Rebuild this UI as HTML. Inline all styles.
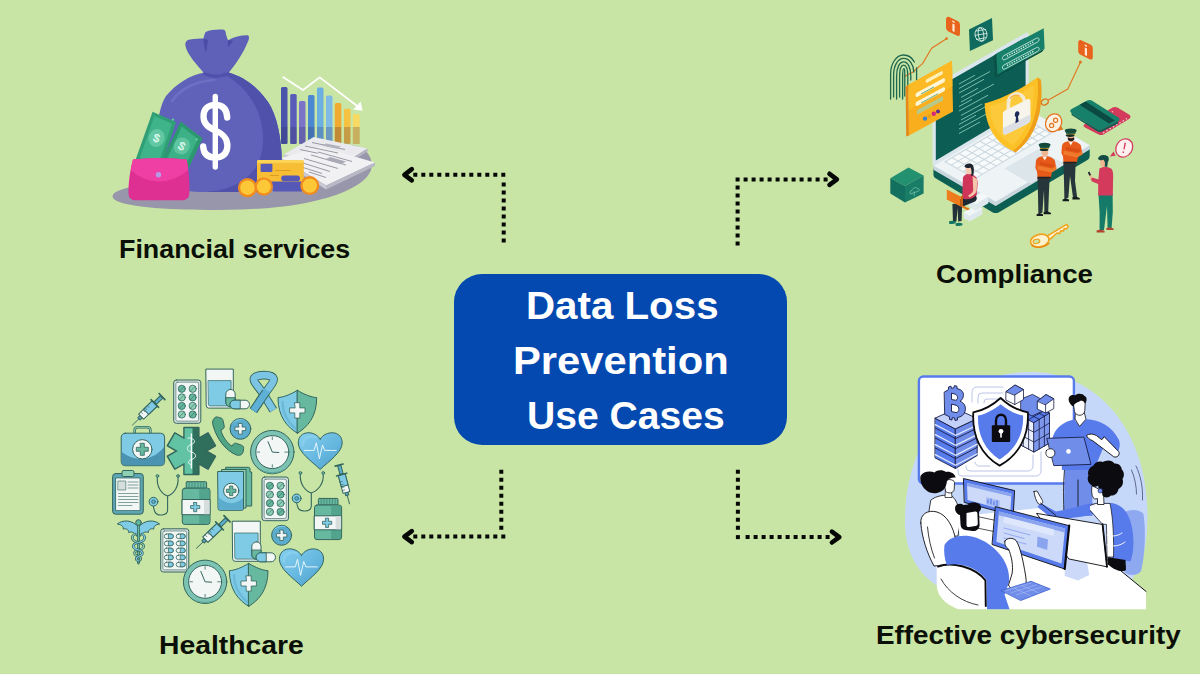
<!DOCTYPE html>
<html lang="en">
<head>
<meta charset="utf-8">
<title>Data Loss Prevention Use Cases</title>
<style>
  html, body { margin: 0; padding: 0; }
  body {
    width: 1200px; height: 674px; overflow: hidden; position: relative;
    background: #c9e5a5;
    font-family: "Liberation Sans", sans-serif;
  }
  #art { position: absolute; left: 0; top: 0; width: 1200px; height: 674px; }
  .center-box {
    position: absolute; left: 454px; top: 274px; width: 333px; height: 171px;
    background: #0449af; border-radius: 28px;
  }
  .lbl {
    position: absolute; white-space: nowrap; font-weight: bold;
    color: #0a0f08; line-height: 1; transform-origin: 0 0;
  }
  .ctr { color: #ffffff; font-size: 39px; }
  .side { font-size: 26px; }
</style>
</head>
<body>

<svg id="art" viewBox="0 0 1200 674" width="1200" height="674">
  <g id="fin">
    <!-- ground shadow -->
    <path d="M112.5 196 C114 186 160 181 236 179 L300 160 L345 146 C362 142 375 156 371 170 C365 188 322 206 252 209 C182 212 111 208 112.5 196 Z" fill="#9896ab"/>
    <!-- bar chart -->
    <g>
      <rect x="281" y="87" width="6.5" height="57" rx="1.5" fill="#4a54ab"/>
      <rect x="290.2" y="94" width="6.5" height="50" rx="1.5" fill="#5b5cb9"/>
      <rect x="299" y="101" width="6.5" height="43" rx="1.5" fill="#7b74c9"/>
      <rect x="308" y="95" width="6.5" height="49" rx="1.5" fill="#4b88d2"/>
      <rect x="317" y="87.6" width="6.5" height="56" rx="1.5" fill="#6cb0e2"/>
      <rect x="326" y="95.6" width="6.5" height="48" rx="1.5" fill="#80bbe6"/>
      <rect x="334.8" y="103" width="6.5" height="41" rx="1.5" fill="#f1a92f"/>
      <rect x="344" y="108.7" width="6.5" height="35" rx="1.5" fill="#f5c242"/>
      <rect x="352.8" y="114" width="6.9" height="30" rx="1.5" fill="#f7da63"/>
      <rect x="281" y="127" width="6.5" height="17" fill="#2a2a55" opacity="0.24"/><rect x="290.2" y="127" width="6.5" height="17" fill="#2a2a55" opacity="0.24"/><rect x="299" y="127" width="6.5" height="17" fill="#2a2a55" opacity="0.24"/><rect x="308" y="127" width="6.5" height="17" fill="#2a2a55" opacity="0.24"/><rect x="317" y="127" width="6.5" height="17" fill="#2a2a55" opacity="0.24"/><rect x="326" y="127" width="6.5" height="17" fill="#2a2a55" opacity="0.24"/><rect x="334.8" y="127" width="6.5" height="17" fill="#2a2a55" opacity="0.24"/><rect x="344" y="127" width="6.5" height="17" fill="#2a2a55" opacity="0.24"/><rect x="352.8" y="127" width="6.9" height="17" fill="#2a2a55" opacity="0.24"/>
      <path d="M283.3 77.2 L303 90 L319.7 77.4 L357.5 106.3" fill="none" stroke="#ffffff" stroke-width="1.8" stroke-linejoin="round" stroke-linecap="round"/>
      <path d="M362.6 110.8 L353.2 109.6 L360.6 101.6 Z" fill="#ffffff"/>
    </g>
    <!-- tax papers -->
    <g>
      <path d="M283.7 154.5 L313.7 137 L367.5 148.5 L340 166 Z" fill="#e9e9ee"/>
      <path d="M283.7 154.5 L340 166 L340 169 L283.7 157.5 Z" fill="#c4c4cf"/>
      <path d="M340 166 L367.5 148.5 L367.5 151.5 L340 169 Z" fill="#b4b4c2"/>
      <path d="M281.2 158 L320 146.5 L375 162.5 L326.2 185.5 Z" fill="#f1f1f4"/>
      <path d="M281.2 158 L326.2 185.5 L326.2 189.5 L281.2 162 Z" fill="#c9c9d3"/>
      <path d="M326.2 185.5 L375 162.5 L375 166 L326.2 189.5 Z" fill="#b9b9c6"/>
      <g stroke="#8e8e9a" stroke-width="0.9" fill="none">
        <path d="M312 142.5 L345 149.5"/>
        <path d="M305 146 L338 153"/>
        <path d="M300 149.5 L318 153.3"/>
        <path d="M318 152 L352 161.5"/>
        <path d="M311 155 L346 165"/>
        <path d="M304 158.5 L338 168.5"/>
        <path d="M298 161.5 L330 171.5"/>
        <path d="M303 167.5 L322 173.5"/>
        <path d="M309 172 L326 177.5"/>
      </g>
      <path d="M330 157 L346 161.5 L341 164 L325 159.5 Z" fill="#a9a9b6"/>
      <path d="M326 143.5 L341 146.5 L337 148.7 L322 145.5 Z" fill="#b2b2be"/>
    </g>
    <!-- money bag -->
    <path d="M204.4 73.5 C198 66 186.5 54 185.4 45.5 C185 41.500 187 39.600 190 39.400 C195 38.800 200 38.600 203.400 38.600 C204.200 36 204.600 33.400 205.600 32 C210 29.600 218 29.200 222.400 29.500 C224.400 29.800 225.400 30.600 225.600 32 C226 35 227 38 228.200 40.200 C234 36.800 242 35 248 35.300 C249.400 36.500 249.200 38.500 248.400 40.500 C244 52 236 64 228.100 73.500 Z" fill="#5f61b8"/>
    <path d="M203.400 38.600 C203.600 44 204.600 49 206 52.500 C207 48 207.600 43 208 40 Z" fill="#4a4ca6"/>
    <path d="M228.200 40.200 C227.600 43 227.800 45.500 228.600 47 C230 45 231.600 42.500 233 40.500 Z" fill="#4a4ca6"/>
    <path d="M204.400 72.500 C190 75 176 84 166 96 C159 107 156.500 125 157.500 150 C158.500 178 172 192 200 192 L251 192 C276 192 283 176 281.500 152 C280 128 274 108 265 98 C255 85 242 76 228 72.500 Z" fill="#6062ba"/>
    <path d="M228 72.500 C242 76 255 85 265 98 C274 108 280 128 281.500 152 C283 176 276 192 251 192 L205 192 C240 190 263 172 263 140 C263 108 246 86 222 73 Z" fill="#4f51ab"/>
    <path d="M172 101 C181 88 197 81 214 80" fill="none" stroke="#7375c8" stroke-width="2.500" stroke-linecap="round" opacity="0.700"/>
    <path d="M203.600 71.800 C211 75.500 222 75.500 229 71.800 L229.600 74.600 C222 79 211 79 203.600 74.800 Z" fill="#4f51ab"/>
    <!-- dollar sign -->
    <g fill="none" stroke="#ffffff" stroke-linecap="round">
      <path d="M227.2 117.5 C226.8 108 222 104.9 215.3 104.9 C208 104.9 203.5 109 203.5 116.5 C203.5 124.5 209 127.5 215.5 130.5 C222.5 133.7 227.4 137.5 227.4 145.5 C227.4 154 222.5 157.6 215.3 157.6 C208 157.6 203.6 154 203.2 146.5" stroke-width="6.3"/>
      <path d="M215.3 96.4 V167" stroke-width="5.4"/>
    </g>
    <!-- bills -->
    <g>
      <path d="M152.600 111.800 L176 122 L161 168 L135.500 160 Z" fill="#2f9f75"/>
      <path d="M154.300 116 L172 123.800 L158.500 164 L139.800 158 Z" fill="#3fb48a"/>
      <ellipse cx="156.600" cy="138" rx="8" ry="9" transform="rotate(20 156.6 138)" fill="#62c8a4"/>
      <path d="M180.500 121.500 L202.600 138.300 L188 170 L162.500 160.500 Z" fill="#2b9870"/>
      <path d="M181.800 126.500 L197.800 139 L185.500 165.500 L167.200 158.600 Z" fill="#3cb086"/>
      <ellipse cx="181.800" cy="146" rx="7.800" ry="8.800" transform="rotate(30 181.8 146)" fill="#5fc5a0"/>
      <circle cx="173" cy="119.600" r="1.200" fill="#62c8a4"/><circle cx="196.600" cy="139.400" r="1.200" fill="#62c8a4"/>
      <text x="156.600" y="142.200" font-family="Liberation Sans, sans-serif" font-weight="bold" font-size="12" fill="#d9f7ea" text-anchor="middle" transform="rotate(20 156.6 138)">$</text>
      <text x="181.800" y="150.200" font-family="Liberation Sans, sans-serif" font-weight="bold" font-size="12" fill="#d9f7ea" text-anchor="middle" transform="rotate(30 181.8 146)">$</text>
    </g>
    <!-- purse -->
    <g>
      <path d="M133 159.6 C150 157.8 170 157.8 186.6 159.6 C188.5 168 190 184 189.3 194 C189 198.5 186 200.3 181 200.3 L136.5 200.3 C131.5 200.3 128.8 198.5 128.6 194 C128 184 130.5 168 133 159.6 Z" fill="#de2f92"/>
      <path d="M133 159.6 C150 157.8 170 157.8 186.6 159.6 C187.3 163 187.8 166.5 188.2 170 C178 178.5 168 181.5 159 181.5 C150 181.5 140 178.5 130.8 170 C131.4 166.5 132.1 163 133 159.6 Z" fill="#ef3ea4"/>
      <circle cx="158.5" cy="174.8" r="2.7" fill="#b59be6"/>
    </g>
    <!-- card -->
    <g>
      <rect x="272.5" y="180" width="30" height="11.5" rx="1.5" fill="#5558b7"/>
      <rect x="257" y="160" width="46.8" height="21.4" rx="2" fill="#f6bd35"/>
      <rect x="257" y="160" width="46.8" height="3" rx="1.5" fill="#fbd457"/>
      <rect x="260.6" y="163.8" width="11.8" height="8.3" rx="1" fill="#5558b7"/>
      <rect x="281.2" y="175.6" width="18.8" height="5.6" rx="2.8" fill="#5558b7"/>
      <path d="M275 170.5 H291 M270 175.5 H279" stroke="#d99a1f" stroke-width="0.9"/>
    </g>
    <!-- coins -->
    <g>
      <circle cx="247.5" cy="187.7" r="9.6" fill="#f08c1f"/><circle cx="247.5" cy="187.7" r="7.3" fill="#fcc838"/>
      <circle cx="263.8" cy="186.6" r="9.2" fill="#f08c1f"/><circle cx="263.8" cy="186.6" r="7" fill="#fcc838"/>
      <circle cx="309.8" cy="185.6" r="9.5" fill="#f08c1f"/><circle cx="309.8" cy="185.6" r="7.2" fill="#fcc838"/>
    </g>
  </g>

  <g id="comp">
    <!-- laptop base: dark underside -->
    <path d="M933.4 168 L995.7 205.5 L1089.7 149 L1089.7 156 C1089.7 158 1088.8 159.2 1087 160.3 L999 212.2 C996.8 213.4 994.6 213.4 992.4 212.2 L936 178.5 C934.2 177.4 933.4 176.2 933.4 174 Z" fill="#0d5f53"/>
    <!-- laptop base: white slab -->
    <path d="M933.4 165.5 L1027.5 109 L1089.7 145.3 L1089.7 149.5 L995.7 206 L933.4 169.7 Z" fill="#c9d6dd"/>
    <path d="M933.4 165.5 L1027.5 109 L1089.7 145.3 L995.7 201.7 Z" fill="#eef3f6"/>
    <!-- keyboard -->
    <path d="M945.1 161.8 L1021.7 116.5 L1050.6 133.5 L975.4 178.4 Z" fill="#f7fafb" stroke="#ccd8df" stroke-width="1.1"/>
    <g stroke="#ccd8df" stroke-width="1.1" fill="none">
      <path d="M951.2 165.1 L1027.8 119.8 M957.2 168.4 L1033.8 123.1 M963.3 171.8 L1039.9 126.5 M969.3 175.1 L1045.9 129.8"/>
      <path d="M952.1 157.7 L982.4 174.3 M959.0 153.6 L989.3 170.2 M966.0 149.4 L996.3 166.0 M973.0 145.3 L1003.3 161.9 M979.9 141.2 L1010.2 157.8 M986.9 137.1 L1017.2 153.7 M993.8 133.0 L1024.1 149.6 M1000.8 128.9 L1031.1 145.5 M1007.8 124.7 L1038.1 141.3 M1014.7 120.6 L1045.0 137.2"/>
    </g>
    <!-- trackpad -->
    <path d="M1004.3 168.4 L1037.6 149.5 L1065.1 164.1 L1030.4 183.5 Z" fill="#dce5ea"/>
    <!-- screen -->
    <path d="M932.6 86 L1026.6 32.4 L1028.6 33.6 L1028.6 109.5 L934.6 165.6 L932.6 164.4 Z" fill="#dbe6ec"/>
    <path d="M935.8 88.6 L1025.6 37.4 L1025.6 107 L935.8 160.6 Z" fill="#0c5d53"/>
    <!-- code lines -->
    <g stroke="#8fd2c1" stroke-width="0.9" fill="none" opacity="0.9">
      <path d="M959 84 L975 75.2 M959 88.5 L990 71.5 M959 93 L984 79.3 M961 97.5 L978 88.2 M961 102 L994 84 M959 106.5 L972 99.4 M959 111 L988 95.2 M961 115.5 L982 104 M961 120 L996 101 M959 124.5 L976 115.2 M959 129 L990 112 M959 133.5 L980 122"/>
    </g>
    <!-- password panel -->
    <path d="M993.6 56 L996.4 53.4 L997.4 74.6 L1044.6 48.6 L1042.2 51.8 L995 78 Z" fill="#0a5247"/>
    <path d="M996.4 53.4 L1043.7 28.3 L1044.6 48.6 L997.4 74.6 Z" fill="#17806a"/>
    <g fill="none" stroke="#d9f3ea" stroke-width="0.8">
      <path d="M1004 55.6 L1036.5 38.2 C1039.5 36.8 1040 40.6 1037.6 42 L1005 59.6 C1002 61 1001.6 57 1004 55.6 Z"/>
      <path d="M1004 65 L1036.5 47.6 C1039.5 46.2 1040 50 1037.6 51.4 L1005 69 C1002 70.4 1001.6 66.4 1004 65 Z"/>
      <path d="M1007 56.2 L1034.5 41.4 M1007 65.6 L1034.5 50.8" stroke-dasharray="1.3 1.3" stroke-width="1.4"/>
    </g>
    <!-- globe card -->
    <path d="M969 29.6 L992 18 L993 40.2 L969.9 51 Z" fill="#0f6b5d"/>
    <g fill="none" stroke="#e4f5ef" stroke-width="0.8">
      <ellipse cx="981" cy="34.4" rx="6" ry="6.8" transform="rotate(-8 981 34.4)"/>
      <ellipse cx="981" cy="34.4" rx="2.7" ry="6.8" transform="rotate(-8 981 34.4)"/>
      <path d="M975 35.4 L987 33.4 M976 31 L986 29.4 M976 39.6 L986 37.6"/>
    </g>
    <!-- info icons -->
    <path d="M946 19.4 C946 17 947.6 16.2 949.4 17 L957.6 21 C959.4 22 960 23.4 960 25.4 L960 33.4 C960 35.6 958.6 36.6 956.8 35.6 L948.4 31.4 C946.6 30.4 946 29 946 27 Z" fill="#e8641c"/>
    <path d="M952.4 23.4 L954.6 24.5 L954.6 32 L952.4 30.9 Z M952.4 20.3 L954.6 21.4 L954.6 23 L952.4 21.9 Z" fill="#ffe9d2"/>
    <path d="M1078.2 42.8 C1078.2 40.4 1079.8 39.6 1081.6 40.4 L1090.4 44.6 C1092.2 45.6 1092.8 47 1092.8 49 L1092.8 57 C1092.8 59.2 1091.4 60.2 1089.6 59.2 L1080.6 54.8 C1078.8 53.8 1078.2 52.4 1078.2 50.4 Z" fill="#e8641c"/>
    <path d="M1084.8 47.4 L1087 48.5 L1087 56 L1084.8 54.9 Z M1084.8 44.3 L1087 45.4 L1087 47 L1084.8 45.9 Z" fill="#ffe9d2"/>
    <!-- orange lines -->
    <g fill="none" stroke="#e27420" stroke-width="1.1" stroke-linejoin="round">
      <path d="M904 76.7 L913 72 L922.7 63.4 L931.6 48.3 L946 39"/>
      <path d="M1080.3 62.5 L1067.8 89.1 L1048 100.2"/>
      <ellipse cx="1044.8" cy="102" rx="3.6" ry="2.8" transform="rotate(-30 1044.8 102)" stroke-width="1.3"/>
    </g>
    <circle cx="946.6" cy="38.6" r="1.4" fill="#e27420"/>
    <circle cx="1080.4" cy="62" r="1.5" fill="#e27420"/>
    <!-- fingerprint -->
    <g fill="none" stroke="#1d674e" stroke-width="1.3" stroke-linecap="round">
      <path d="M890.6 99 V74 C890.6 64 896 55 903.6 55 C908 55 912 57.5 914.4 62"/>
      <path d="M893.6 97 V75 C893.6 66 897.6 58.4 903.6 58.4 C909.6 58.4 913.8 65 913.8 72"/>
      <path d="M896.6 99 V76 C896.6 68 899.4 61.8 903.6 61.8 C908 61.8 910.8 68 910.8 76 V80"/>
      <path d="M899.6 97 V77 C899.6 70 901 65.2 903.6 65.2 C906.4 65.2 907.8 70 907.8 77 V92"/>
      <path d="M902.6 99 V78 C902.6 72 902.8 68.6 903.8 68.6 C905 68.6 904.8 74 904.8 80 V96"/>
      <path d="M916.6 68 V80"/>
    </g>
    <!-- yellow login card -->
    <path d="M905.6 86.4 L908.5 84.7 L909 135.4 L906.2 136.6 Z" fill="#e4881a"/>
    <path d="M908.5 84.7 L952 60.7 L953 111.6 L909 135.6 Z" fill="#f9ae1e"/>
    <path d="M908.5 84.7 L952 60.7 L952.5 86 L908.8 110 Z" fill="#fbbc26" opacity="0.8"/>
    <path d="M927 79 L941 71.4 C943.4 70.2 943.6 73.6 941.6 74.8 L927.6 82.4 C925.2 83.6 925 80.2 927 79 Z" fill="#fdf0b8"/>
    <path d="M917 92.6 L943 78.4 C945.6 77 945.8 81.4 943.6 82.6 L917.6 96.8 C915 98 914.8 93.8 917 92.6 Z" fill="#fff6d6"/>
    <path d="M917 101.6 L943 87.4 C945.6 86 945.8 90.4 943.6 91.6 L917.6 105.8 C915 107 914.8 102.8 917 101.6 Z" fill="#fff6d6"/>
    <path d="M921 94 L934 86.9 M921 103 L938 93.7" stroke="#5fae93" stroke-width="1" fill="none"/>
    <path d="M917 110.2 L943 96 L943 100.6 L917 114.8 Z" fill="#b6c98a"/>
    <circle cx="925" cy="118.6" r="2.2" fill="#3b7fd1"/><circle cx="929.4" cy="116.2" r="2.2" fill="#e7a51d"/><circle cx="933.8" cy="113.8" r="2.2" fill="#d4267a"/><circle cx="938" cy="111.6" r="2" fill="#5b2d91"/>
    <!-- shield -->
    <path d="M984.7 103.4 C1000 100 1020 90 1037.6 77.4 C1040.5 79 1040.5 79 1041 80.5 C1044 110 1036 138 1015.5 152.5 L1013 151 Z" fill="#ef9f1a"/>
    <path d="M984.7 103.4 C1000 100 1020 90 1037.6 77.4 C1040 107 1033 135 1013 151 C994 142 985 124 984.7 103.4 Z" fill="#fbc127"/>
    <path d="M989.5 106.5 C1003 103 1019 95 1033.5 85 C1035 108 1029 131 1013 145 C998 137 990 123 989.5 106.5 Z" fill="#fdd04a" opacity="0.55"/>
    <!-- padlock -->
    <path d="M1008.4 110 V103.4 C1008.4 97 1013.6 92.8 1018.4 94 C1022.4 95 1024.6 99 1024.6 103.6 V107" fill="none" stroke="#f4e9d2" stroke-width="3.6"/>
    <path d="M1010 98.6 C1012 95.6 1016 94.4 1019.6 96" fill="none" stroke="#f2b84a" stroke-width="1.6"/>
    <path d="M1002.9 113.8 C1002.9 112 1003.8 111 1005.4 110.2 L1027 99.4 C1029 98.6 1030.4 99.4 1030.4 101.4 L1030.4 119.6 C1030.4 121.4 1029.6 122.6 1028 123.4 L1006.4 134.2 C1004.4 135.2 1002.9 134.2 1002.9 132.2 Z" fill="#f7f4ec"/>
    <path d="M1002.9 128 L1030.4 114.4 L1030.4 119.6 C1030.4 121.4 1029.6 122.6 1028 123.4 L1006.4 134.2 C1004.4 135.2 1002.9 134.2 1002.9 132.2 Z" fill="#dcdfe3"/>
    <path d="M1016.4 111.4 C1018.2 110.6 1019.4 111.8 1019.4 113.4 C1019.4 114.6 1018.8 115.6 1018 116.2 L1018.6 121.6 L1015.4 123.2 L1016 117.2 C1015.2 116.8 1014.8 116 1014.8 115 C1014.8 113.4 1015.4 112 1016.4 111.4 Z" fill="#1e2a5a"/>
    <!-- bank cards -->
    <path d="M1085 124 L1112.6 107.6 C1114.2 106.7 1115.8 106.7 1117.4 107.6 L1129 114.6 C1131 115.8 1131 117.8 1129 119 L1103.4 134.4 C1101.8 135.3 1100.2 135.3 1098.6 134.4 L1085 127.4 C1083 126.2 1083 125.2 1085 124 Z" fill="#d33a5b"/>
    <path d="M1089 125.6 L1113 111.4 M1103 133 L1127 118.6" stroke="#f6d4dc" stroke-width="1.2" stroke-dasharray="1.6 2.2" fill="none"/>
    <path d="M1071.6 109 L1087.4 100.6 C1089 99.8 1090.6 99.8 1092.2 100.8 L1118 117.2 C1120 118.6 1120 120.4 1118 121.6 L1102 129.6 C1100.4 130.4 1098.8 130.4 1097.2 129.4 L1071.6 113.2 C1069.6 111.8 1069.6 110.2 1071.6 109 Z" fill="#17806a"/>
    <path d="M1079.6 104.8 L1085.6 101.6 L1115 120.4 L1109 123.6 Z" fill="#0b4a42"/>
    <path d="M1071.6 113.2 L1097.2 129.4 C1098.8 130.4 1100.4 130.4 1102 129.6 L1118 121.6 L1118 123.4 L1102 131.4 C1100.4 132.2 1098.8 132.2 1097.2 131.2 L1071.6 115 Z" fill="#0d5f53"/>
    <!-- speech bubbles -->
    <path d="M1057.6 131 L1063.2 129.4 L1060.6 125.4 Z" fill="#e27420"/>
    <ellipse cx="1053.6" cy="122.8" rx="7.8" ry="9.2" transform="rotate(28 1053.6 122.8)" fill="#fdf1e2" stroke="#e27420" stroke-width="1.3"/>
    <g fill="none" stroke="#e27420" stroke-width="1.2"><circle cx="1051.6" cy="125.4" r="2.1"/><circle cx="1055.6" cy="120.2" r="2.1"/></g>
    <path d="M1115.6 155.8 L1109.8 156.4 L1113.6 151.6 Z" fill="#d33a5b"/>
    <ellipse cx="1124.2" cy="148" rx="8" ry="9.6" transform="rotate(32 1124.2 148)" fill="#fdf0ee" stroke="#d33a5b" stroke-width="1.3"/>
    <path d="M1124.6 142.6 L1126 143 L1124.6 149.6 L1123.4 149.2 Z M1122.8 151.2 L1124.2 151.8 L1123.8 153.2 L1122.4 152.6 Z" fill="#d33a5b"/>
    <!-- cube -->
    <path d="M908.5 167.6 L923.6 175.6 L905 186 L890.3 178.3 Z" fill="#23906f"/>
    <path d="M890.3 178.3 L905 186 L905 202.6 L890.3 193.4 Z" fill="#136f5e"/>
    <path d="M905 186 L923.6 175.6 L923.6 193.4 L905 202.6 Z" fill="#197c67"/>
    <path d="M910.6 194 C909.4 193 910 190.6 912 190.4 C912.4 188 916 186.6 917.4 188.6 C919.2 188 919.8 190 918.6 191 Z M914.2 191.4 V196" fill="none" stroke="#7fcdb8" stroke-width="0.7"/>
    <!-- steps -->
    <path d="M963.6 212.4 L976.2 205 L982.4 208.6 L982.4 214.2 L969.8 221.6 L963.6 218 Z" fill="#dfe8ec"/>
    <path d="M963.6 212.4 L976.2 205 L982.4 208.6 L969.8 216 Z" fill="#f0f5f7"/>
    <path d="M968.8 200 L981.4 192.6 L988.4 196.6 L988.4 203.2 L975.8 210.6 L968.8 206.6 Z" fill="#dfe8ec"/>
    <path d="M968.8 200 L981.4 192.6 L988.4 196.6 L975.8 204 Z" fill="#f4f8f9"/>
    <!-- seated woman -->
    <g>
      <path d="M952.4 204 L962.2 203 L961.6 221 L958.2 221.4 L957.6 208 L956.4 221.6 L953 222 Z" fill="#233238"/>
      <path d="M949 221.6 C950.6 220.6 953.8 220.6 955.8 221.6 L955.8 223.2 C953.4 224.2 950.4 224.2 949 223.4 Z M955.6 223.6 C957.2 222.6 960.4 222.6 962.4 223.6 L962.4 225.2 C960 226.2 957 226.2 955.6 225.4 Z" fill="#147562"/>
      <path d="M958 200 L974 194.6 C977.4 196.4 977.6 199.6 975 201.6 L961.6 207 Z" fill="#1d2a33"/>
      <path d="M963 177.6 C964.2 174.4 968.4 172.8 972.4 174.4 C976.6 176.2 978 180 977.6 184.6 L976.6 195 C973 199 966 200.6 962.2 198 Z" fill="#cf3459"/>
      <path d="M972.6 176 L977.4 179.4 L976.6 191 C975.8 194 972.6 196.2 969.2 197.4 L968.2 195.2 C971 194 973 192.4 973.2 190 Z" fill="#f4c5a8"/>
      <path d="M946.8 189.4 L960.6 196.4 L960.6 206.6 L946.8 199.6 Z" fill="#ee7b1c"/>
      <path d="M960.6 196.4 L963 195.2 L963 205.4 L960.6 206.6 Z" fill="#c85f12"/>
      <path d="M960.6 206.6 L963 205.4 L970 209 L967.6 210.2 Z" fill="#e56f18"/>
      <path d="M965.6 168.4 C966.4 166 970 165.4 971.2 167.6 L971.6 172.4 C970.8 174.6 967.4 175 966 173.2 Z" fill="#f6cdb2"/>
      <path d="M964.4 166.6 C965.4 163.2 971.2 162.4 973 165.4 C974.4 168 974 172 973.2 175.6 L971.2 176 C971.8 172.4 971.6 169.4 970.4 167.6 C968.6 168.4 966 168.4 964.4 166.6 Z" fill="#1b2530"/>
    </g>
    <!-- guards -->
    <g id="guard1">
      <path d="M1037.6 178 L1049.6 178 L1048.8 196 L1048.2 212.4 L1044.4 212.4 L1044 190 L1042.4 212.4 L1038.4 214.6 L1038 196 Z" fill="#27363b"/>
      <path d="M1036.6 214.4 C1038 213.2 1041.6 213.2 1043 214.6 L1043 216 L1036.6 216 Z M1043.6 212 C1045.4 211 1049.4 211.4 1051 213 L1051 214.2 L1043.6 214.2 Z" fill="#131b1e"/>
      <path d="M1036 160.4 C1037 157.4 1041 156 1044.6 156.4 C1049 156 1053.4 157.8 1055 161 L1056.4 169 L1052 172 L1050.6 178.6 L1037.6 178.6 L1037 171.4 L1035.4 168 Z" fill="#e85a1a"/>
      <path d="M1037.6 165.4 L1051.4 168.6 L1056.2 166.2 L1056.4 169.4 L1051 172.6 L1037.4 169.4 Z" fill="#f07a2c"/>
      <path d="M1040 162 L1054 164.6 L1053.4 167.6 L1039.6 165 Z" fill="#d84e14"/>
      <path d="M1042.4 156.6 L1047 156.6 L1044.8 160.4 Z" fill="#fff3e6"/>
      <path d="M1041.6 149.6 C1042 147.6 1047.6 147.4 1048.2 149.6 L1048.2 154 C1047.4 156.6 1042.6 156.8 1041.6 154 Z" fill="#efb590"/>
      <path d="M1038.7 144.8 L1040.3 148.4 L1048.9 148.4 L1050.5 144.8 Z" fill="#1b5a48"/><ellipse cx="1044.6" cy="144.8" rx="5.900" ry="2.100" fill="#15493c"/><path d="M1040.3 148.0 H1048.9 V149.1 H1040.3 Z" fill="#e9a325"/><ellipse cx="1044.0" cy="149.8" rx="4.400" ry="1.300" fill="#0f2f28"/>
      <path d="M1037.4 176.8 L1050.8 176.8 L1050.6 178.8 L1037.6 178.8 Z" fill="#1a2428"/>
    </g>
    <g id="guard2">
      <path d="M1063.4 163 L1075.6 163 L1075 181 L1077.2 197.6 L1073 197.6 L1070 176 L1068.4 197.6 L1064.4 199.8 L1064 181 Z" fill="#27363b"/>
      <path d="M1062.6 199.6 C1064 198.4 1067.6 198.4 1069 199.8 L1069 201.2 L1062.6 201.2 Z M1072.4 197.2 C1074.2 196.2 1078.2 196.6 1079.8 198.2 L1079.8 199.4 L1072.4 199.4 Z" fill="#131b1e"/>
      <path d="M1062 145.4 C1063 142.4 1067 141 1070.6 141.4 C1075 141 1079.4 142.8 1081 146 L1082.4 154 L1078 157 L1076.6 163.6 L1063.6 163.6 L1063 156.4 L1061.4 153 Z" fill="#e85a1a"/>
      <path d="M1063.6 150.4 L1077.4 153.6 L1082.2 151.2 L1082.4 154.4 L1077 157.6 L1063.4 154.4 Z" fill="#f07a2c"/>
      <path d="M1066 147 L1080 149.6 L1079.4 152.6 L1065.6 150 Z" fill="#d84e14"/>
      <path d="M1068.4 141.6 L1073 141.6 L1070.8 145.4 Z" fill="#fff3e6"/>
      <path d="M1067.6 134.6 C1068 132.6 1073.6 132.4 1074.2 134.6 L1074.2 139 C1073.4 141.6 1068.6 141.8 1067.6 139 Z" fill="#efb590"/>
      <path d="M1068 137.6 C1070 138.6 1072.6 138.4 1074.2 137.2 L1074.2 139.4 C1073.2 141.8 1068.8 141.8 1067.8 139.4 Z" fill="#2a1f1a"/>
      <path d="M1064.8 130.6 L1066.4 134.2 L1075.0 134.2 L1076.6 130.6 Z" fill="#1b5a48"/><ellipse cx="1070.7" cy="130.6" rx="5.900" ry="2.100" fill="#15493c"/><path d="M1066.4 133.8 H1075.0 V134.9 H1066.4 Z" fill="#e9a325"/><ellipse cx="1070.1" cy="135.6" rx="4.400" ry="1.300" fill="#0f2f28"/>
      <path d="M1063.4 161.8 L1076.800 161.8 L1076.6 163.8 L1063.6 163.8 Z" fill="#1a2428"/>
    </g>
    <!-- visitor -->
    <g>
      <path d="M1098.400 193 L1112.6 193 L1112.8 212 L1111.6 228 L1107.6 228.6 L1107 206 L1104 230 L1099.600 230.6 L1099.6 212 Z" fill="#157a68"/>
      <path d="M1096.6 230.4 C1098.6 229.2 1102.6 229.6 1104.6 231 L1104.6 232.400 L1096.6 232.4 Z M1106.4 228 C1108.4 227 1112 227.400 1113.6 228.6 L1113.6 230 L1106.4 230 Z" fill="#b2452f"/>
      <path d="M1099.400 168.600 C1102 166.400 1108.600 166.400 1111.400 168.800 C1113.400 171 1113.400 176 1113 182 L1112.800 195.400 L1098.200 195.400 L1098.200 184 L1092 181.600 L1090.600 178.600 L1092.400 177.400 L1098.400 179.400 Z" fill="#d33a5b"/>
      <path d="M1088.600 174.600 L1090.600 173.800 L1092.800 177.600 L1090.800 179 Z" fill="#efb590"/>
      <path d="M1087.800 172.400 L1089.400 171.600 L1091 175 L1089.400 175.800 Z" fill="#1b2530"/>
      <path d="M1100.400 160.400 C1100.800 158 1106.400 157.800 1107.200 160.200 L1107.200 165.200 C1106.400 167.600 1101.400 167.800 1100.400 165 Z" fill="#efb590"/>
      <path d="M1098 159 C1098.400 155.200 1104 153.800 1107.400 156 C1109.400 157.400 1109 160.400 1107.800 162.400 L1107.200 167 L1104.600 166.600 C1105.400 164 1105 161.400 1103.400 159.800 C1101.600 160.600 1099.400 160.400 1098 159 Z" fill="#134c45"/>
    </g>
    <!-- key -->
    <g>
      <path d="M1046.600 236.400 L1063.600 226.200 L1066.800 224.400 L1068.200 226.600 L1066.400 229 L1064.200 228.600 L1063.400 231 L1060.600 230.800 L1059.800 233.400 L1057 233 L1050 239.400 Z" fill="#fdf3cf"/>
      <ellipse cx="1039.800" cy="240.600" rx="9.400" ry="6.200" transform="rotate(-14 1039.8 240.6)" fill="#fdf3cf"/>
      <path d="M1046.600 236.400 L1063.600 226.200 L1066.800 224.400 L1068.200 226.600 L1066.400 229 L1064.200 228.600 L1063.400 231 L1060.600 230.800 L1059.800 233.400 L1057 233 L1050 239.400" fill="none" stroke="#f1a21b" stroke-width="1.500" stroke-linejoin="round"/>
      <ellipse cx="1039.800" cy="240.600" rx="9.400" ry="6.200" transform="rotate(-14 1039.8 240.6)" fill="none" stroke="#f1a21b" stroke-width="1.800"/>
      <ellipse cx="1036.400" cy="241.400" rx="3.400" ry="2.200" transform="rotate(-14 1036.4 241.4)" fill="#c9e5a5" stroke="#f1a21b" stroke-width="1.200"/>
      <path d="M1031.600 244.800 C1035 248.600 1044 248.200 1049.400 243" fill="none" stroke="#e88a16" stroke-width="1.400"/>
    </g>
  </g>

  <defs><linearGradient id="hg" x1="0" y1="0" x2="1" y2="1"><stop offset="0" stop-color="#86cfee"/><stop offset="0.55" stop-color="#66b8e0"/><stop offset="1" stop-color="#4f9fc8"/></linearGradient></defs>
    <g id="health" stroke="#34665d" stroke-width="1" stroke-linejoin="round" stroke-linecap="round">
    <g transform="translate(132.5 425) rotate(-44) scale(1.0)">
    <path d="M0 0 H9" fill="none" stroke-width="0.9"/>
    <rect x="9" y="-1.6" width="3" height="3.2" fill="#5baccd"/>
    <rect x="12" y="-3.6" width="19" height="7.2" fill="#f2f7f6"/>
    <rect x="19" y="-3.6" width="12" height="7.2" fill="#7fcbe6"/>
    <path d="M31 -5.4 V5.4" stroke-width="1.6" fill="none"/>
    <rect x="31.8" y="-1.7" width="8.6" height="3.4" fill="#5baccd"/>
    <path d="M41 -4.2 V4.2" stroke-width="1.7" fill="none"/>
    <path d="M15 -3.4 V-1 M18 -3.4 V-1 M21 -3.4 V-1 M24 -3.4 V-1" stroke-width="0.6" fill="none"/>
    </g>
    <rect x="173.7" y="380" width="27.100000000000023" height="43.30000000000001" rx="2.6" fill="#d5dedd"/>
    <rect x="175.9" y="382.2" width="22.7" height="38.9" rx="1.6" fill="#f2f7f6" stroke-width="0.6"/>
    <circle cx="181.8" cy="388.8" r="3.6" fill="#66b89f" stroke-width="0.8"/>
    <path d="M179.5 391.1 L184.1 386.5" stroke-width="0.6" fill="none"/>
    <circle cx="192.7" cy="388.8" r="3.6" fill="#8fd1b6" stroke-width="0.8"/>
    <path d="M190.4 391.1 L195.0 386.5" stroke-width="0.6" fill="none"/>
    <circle cx="181.8" cy="397.4" r="3.6" fill="#8fd1b6" stroke-width="0.8"/>
    <path d="M179.5 399.7 L184.1 395.1" stroke-width="0.6" fill="none"/>
    <circle cx="192.7" cy="397.4" r="3.6" fill="#66b89f" stroke-width="0.8"/>
    <path d="M190.4 399.7 L195.0 395.1" stroke-width="0.6" fill="none"/>
    <circle cx="181.8" cy="405.9" r="3.6" fill="#66b89f" stroke-width="0.8"/>
    <path d="M179.5 408.2 L184.1 403.6" stroke-width="0.6" fill="none"/>
    <circle cx="192.7" cy="405.9" r="3.6" fill="#8fd1b6" stroke-width="0.8"/>
    <path d="M190.4 408.2 L195.0 403.6" stroke-width="0.6" fill="none"/>
    <circle cx="181.8" cy="414.5" r="3.6" fill="#8fd1b6" stroke-width="0.8"/>
    <path d="M179.5 416.8 L184.1 412.2" stroke-width="0.6" fill="none"/>
    <circle cx="192.7" cy="414.5" r="3.6" fill="#66b89f" stroke-width="0.8"/>
    <path d="M190.4 416.8 L195.0 412.2" stroke-width="0.6" fill="none"/>
    <path d="M206.2 369.1 H233.3 V405.6 a2.5 2.5 0 0 1 -2.5 2.5 H208.7 a2.5 2.5 0 0 1 -2.5 -2.5 Z" fill="#f2f7f6"/>
    <path d="M208.4 380.6 H231.1 V404.3 a1.6 1.6 0 0 1 -1.6 1.6 H210.0 a1.6 1.6 0 0 1 -1.6 -1.6 Z" fill="#7fcbe6" stroke-width="0.7"/>
    <rect x="225.8" y="389.4" width="9.4" height="17.4" rx="4.7" fill="#f2f7f6"/>
    <path d="M225.8 398.1 v4.0 a4.7 4.7 0 0 0 9.4 0 v-4.0 Z" fill="#66b89f"/>
    <rect x="230.0" y="400.2" width="19.5" height="8.6" rx="4.3" fill="#f2f7f6"/>
    <path d="M239.8 400.2 h-5.5 a4.3 4.3 0 0 0 0 8.6 h5.5 Z" fill="#7fcbe6"/>
    <path d="M253.400 410.700 L266 392 C271 385 274.500 381 273.500 378.500 C272 374 256 374 254 378.500 C253 381 257 385 262 392 L273.400 410.300" fill="none" stroke-width="8.600" stroke-linecap="butt"/>
    <path d="M253.400 410.700 L266 392 C271 385 274.500 381 273.500 378.500 C272 374 256 374 254 378.500 C253 381 257 385 262 392 L273.400 410.300" fill="none" stroke="#7cc4e4" stroke-width="6.800" stroke-linecap="butt"/>
    <path d="M266 392 L253.400 410.700" fill="none" stroke-width="8.600" stroke-linecap="butt"/>
    <path d="M267.200 390.300 L253.400 410.700" fill="none" stroke="#5fb0d6" stroke-width="6.800" stroke-linecap="butt"/>
    <path d="M297.4 390.3 C290.4 394.6 283.4 397.2 278.0 397.6 C278.0 416.9 287.3 427.2 297.4 433.2 Z" fill="#7fcbe6"/>
    <path d="M297.4 390.3 C304.3 394.6 311.3 397.2 316.7 397.6 C316.7 416.9 307.4 427.2 297.4 433.2 Z" fill="#66b89f"/>
    <path d="M282.6 401.9 C282.6 414.3 288.8 422.9 295.8 428.9" fill="none" stroke="#5baccd" stroke-width="2.2" opacity="0.55"/>
    <path d="M294.8 402.7 h5.0 v5.2 h5.2 v5.0 h-5.2 v5.2 h-5.0 v-5.2 h-5.2 v-5.0 h5.2 Z" fill="#f2f7f6" stroke-width="0.8"/>
    <path d="M134.700 433.600 V430 a2.8 2.8 0 0 1 2.800 -2.800 H147.500 a2.8 2.8 0 0 1 2.800 2.800 V433.600" fill="none" stroke-width="2.600"/>
    <path d="M134.700 433.600 V430 a2.8 2.8 0 0 1 2.800 -2.800 H147.500 a2.8 2.8 0 0 1 2.800 2.800 V433.600" fill="none" stroke="#8fd1b6" stroke-width="1.100"/>
    <rect x="121.200" y="433.200" width="43.400" height="32.500" rx="4" fill="#7fcbe6"/>
    <path d="M121.700 452 C135 462 152 462 164.100 447 V461.700 a3.500 3.500 0 0 1 -3.500 3.500 H125.200 a3.500 3.500 0 0 1 -3.500 -3.500 Z" fill="#4a93b1" stroke="none"/>
    <circle cx="142.300" cy="449.300" r="9.700" fill="#f2f7f6"/>
    <path d="M140.3 443.3 h4.0 v4.0 h4.0 v4.0 h-4.0 v4.0 h-4.0 v-4.0 h-4.0 v-4.0 h4.0 Z" fill="#66b89f" stroke-width="0.8"/>
    <path d="M198.8 427.6 L184.0 427.6 L184.0 474.4 L198.8 474.4 Z M174.8 432.9 L167.4 445.7 L208.0 469.1 L215.4 456.3 Z M167.4 456.3 L174.8 469.1 L215.4 445.7 L208.0 432.9 Z " fill="#2f6f5c" stroke-width="1.600"/>
    <path d="M198.2 428.2 L184.6 428.2 L184.6 473.8 L198.2 473.8 Z M175.1 433.7 L168.3 445.5 L207.7 468.3 L214.5 456.5 Z M168.3 456.5 L175.1 468.3 L214.5 445.5 L207.7 433.7 Z " fill="#2f6f5c" stroke="none"/>
    <clipPath id="slL"><rect x="165" y="425" width="27.500" height="52"/></clipPath>
    <path d="M198.2 428.2 L184.6 428.2 L184.6 473.8 L198.2 473.8 Z M175.1 433.7 L168.3 445.5 L207.7 468.3 L214.5 456.5 Z M168.3 456.5 L175.1 468.3 L214.5 445.5 L207.7 433.7 Z " fill="#62c3a4" stroke="none" clip-path="url(#slL)"/>
    <path d="M191.400 434 V468" fill="none" stroke="#f2f7f6" stroke-width="1.400"/>
    <path d="M188 438 C196 438 196 443 191.400 444.500 C186 446 186 451 191.400 452 C197 453.500 197 458 191.400 459.500 C187.500 460.500 187.500 464 191.400 465" fill="none" stroke="#f2f7f6" stroke-width="1"/>
    <path d="M216 417 C212.500 418.500 212 422 213.200 426 C217 439 225 450 236 454.800 C239.500 456.200 242.500 455 243.200 451.500 L243.600 448.500 C243.800 446.800 243 445.800 241.500 445.200 L236.500 443.400 C235 442.900 233.800 443.300 233 444.600 L232 446.200 C227 443 222.500 436.500 220.800 430 L222.600 429.200 C224 428.500 224.500 427.300 224.200 425.800 L223 420.400 C222.600 418.800 221.500 417.800 219.800 417.600 Z" fill="#4fa584"/>
    <circle cx="240.4" cy="428.9" r="10.4" fill="#5baccd"/>
    <path d="M231.5 424.7 A9.9 9.9 0 0 1 245.6 420.6 A14.6 14.6 0 0 0 231.5 424.7 Z" fill="#7fcbe6" stroke="none"/>
    <path d="M238.6 423.5 h3.5 v3.6 h3.6 v3.5 h-3.6 v3.6 h-3.5 v-3.6 h-3.6 v-3.5 h3.6 Z" fill="#f2f7f6" stroke-width="0.8"/>
    <circle cx="272.3" cy="452.1" r="21.7" fill="#7cc3b4"/>
    <path d="M257.1 467.3 A21.7 21.7 0 0 0 287.5 467.3 A26.0 26.0 0 0 1 257.1 467.3 Z" fill="#5aa697" stroke="none"/>
    <circle cx="272.3" cy="452.1" r="16.5" fill="#f2f7f6"/>
    <path d="M272.3 436.9 V439.5 M272.3 464.7 V467.3 M257.1 452.1 H259.7 M284.9 452.1 H287.5" stroke-width="0.8" fill="none"/>
    <path d="M268.0 441.7 L272.3 452.1 L278.8 452.5" stroke-width="1" fill="none"/>
    <path d="M320.2 439.1 C315.0 430.0 298.3 430.0 298.3 442.9 C298.3 452.3 311.5 461.1 320.2 469.4 C329.0 461.1 342.2 452.3 342.2 442.9 C342.2 430.0 325.5 430.0 320.2 439.1 Z" fill="url(#hg)"/>
    <path d="M302.7 445.1 C302.7 436.8 311.5 434.5 315.9 437.6" fill="none" stroke="#8fd3ee" stroke-width="2.4" opacity="0.7"/>
    <path d="M304.4 450.4 H314.1 l2.2 -7.6 l3.1 15.9 l3.1 -13.6 l2.2 5.3 H336.1" fill="none" stroke="#f4fbfd" stroke-width="0.9"/>
    <g transform="translate(349.5 503.8) rotate(-105) scale(0.9777777777777777)">
    <path d="M0 0 H9" fill="none" stroke-width="0.9"/>
    <rect x="9" y="-1.6" width="3" height="3.2" fill="#5baccd"/>
    <rect x="12" y="-3.6" width="19" height="7.2" fill="#f2f7f6"/>
    <rect x="19" y="-3.6" width="12" height="7.2" fill="#7fcbe6"/>
    <path d="M31 -5.4 V5.4" stroke-width="1.6" fill="none"/>
    <rect x="31.8" y="-1.7" width="8.6" height="3.4" fill="#5baccd"/>
    <path d="M41 -4.2 V4.2" stroke-width="1.7" fill="none"/>
    <path d="M15 -3.4 V-1 M18 -3.4 V-1 M21 -3.4 V-1 M24 -3.4 V-1" stroke-width="0.6" fill="none"/>
    </g>
    <rect x="112.600" y="473.500" width="30.700" height="40.700" rx="3" fill="#5da5b0"/>
    <rect x="116" y="478" width="24" height="32.500" fill="#f2f7f6" stroke-width="0.700"/>
    <rect x="122" y="470.500" width="12" height="6" rx="1.500" fill="#8fd1b6"/>
    <rect x="118.200" y="481" width="7.600" height="9" fill="#d5dedd" stroke-width="0.600"/>
    <path d="M128 482 H138 M128 485 H138 M128 488 H138 M118.500 493.500 H138 M118.500 496.500 H138 M118.500 499.500 H138 M118.500 502.500 H138 M118.500 505.500 H132" fill="none" stroke-width="0.600"/>
    <path d="M157.4 477.0 C156.4 487.0 161.6 494.0 167.6 496.0 C173.6 494.0 179.0 487.0 178.0 477.0" fill="none" stroke-width="1.1"/>
    <circle cx="157.4" cy="476.0" r="1.4" fill="#66b89f" stroke-width="0.8"/>
    <circle cx="178.0" cy="476.0" r="1.4" fill="#66b89f" stroke-width="0.8"/>
    <path d="M167.6 496.0 V510.0 C167.6 516.0 156.5 517.0 154.5 511.0 C153.5 506.0 153.5 509.7 153.5 505.7" fill="none" stroke-width="1.1"/>
    <circle cx="153.5" cy="501.7" r="4.4" fill="#7fcbe6"/>
    <circle cx="153.5" cy="501.7" r="1.9" fill="#5baccd" stroke-width="0.7"/>
    <rect x="186.2" y="481.7" width="20.4" height="6.5" rx="1" fill="#66b89f"/>
    <path d="M189.1 482.7 V487.2" stroke-width="0.5" fill="none"/>
    <path d="M192.0 482.7 V487.2" stroke-width="0.5" fill="none"/>
    <path d="M194.9 482.7 V487.2" stroke-width="0.5" fill="none"/>
    <path d="M197.9 482.7 V487.2" stroke-width="0.5" fill="none"/>
    <path d="M200.8 482.7 V487.2" stroke-width="0.5" fill="none"/>
    <path d="M203.7 482.7 V487.2" stroke-width="0.5" fill="none"/>
    <path d="M184.8 488.2 H207.5 a2.5 2.5 0 0 1 2.500 2.500 V521.9 a2.5 2.5 0 0 1 -2.500 2.500 H184.8 a2.5 2.5 0 0 1 -2.500 -2.500 V490.7 a2.5 2.5 0 0 1 2.500 -2.500 Z" fill="#66b89f"/>
    <path d="M199.2 488.7 H209.5 V521.4 a2.5 2.5 0 0 1 -2.500 2.500 H199.2 Z" fill="#4d9f88" stroke="none" opacity="0.8"/>
    <rect x="182.3" y="499.5" width="27.7" height="15.2" fill="#f2f7f6"/>
    <rect x="204.0" y="500.0" width="5.5" height="14.2" fill="#d5dedd" stroke="none"/>
    <path d="M193.7 502.5 h3.0 v3.1 h3.1 v3.0 h-3.1 v3.1 h-3.0 v-3.1 h-3.1 v-3.0 h3.1 Z" fill="#7fcbe6" stroke-width="0.8"/>
    <path d="M226 467.300 H248.500 a1.500 1.500 0 0 1 1.500 1.500 V472 h1.700 V506 H226 Z" fill="#66b89f"/>
    <path d="M222 469.500 H246 V508 H222 Z" fill="#8fd1b6"/>
    <path d="M218 471.500 H243.500 V508.500 a1.800 1.800 0 0 1 -1.800 1.800 H219.800 a1.800 1.800 0 0 1 -1.800 -1.800 Z" fill="#7fcbe6"/>
    <path d="M218.500 497 C226 505 236 505 243 498 V508.500 a1.300 1.300 0 0 1 -1.300 1.300 H219.800 a1.300 1.300 0 0 1 -1.300 -1.300 Z" fill="#5baccd" stroke="none"/>
    <circle cx="231.200" cy="490.800" r="7.600" fill="#f2f7f6"/>
    <path d="M229.6 486.0 h3.2 v3.2 h3.2 v3.2 h-3.2 v3.2 h-3.2 v-3.2 h-3.2 v-3.2 h3.2 Z" fill="#66b89f" stroke-width="0.8"/>
    <rect x="262" y="477" width="26.5" height="43.700000000000045" rx="2.6" fill="#d5dedd"/>
    <rect x="264.2" y="479.2" width="22.1" height="39.3" rx="1.6" fill="#f2f7f6" stroke-width="0.6"/>
    <circle cx="269.9" cy="485.8" r="3.6" fill="#66b89f" stroke-width="0.8"/>
    <path d="M267.6 488.1 L272.2 483.5" stroke-width="0.6" fill="none"/>
    <circle cx="280.6" cy="485.8" r="3.6" fill="#8fd1b6" stroke-width="0.8"/>
    <path d="M278.2 488.1 L282.9 483.5" stroke-width="0.6" fill="none"/>
    <circle cx="269.9" cy="494.5" r="3.6" fill="#8fd1b6" stroke-width="0.8"/>
    <path d="M267.6 496.8 L272.2 492.2" stroke-width="0.6" fill="none"/>
    <circle cx="280.6" cy="494.5" r="3.6" fill="#66b89f" stroke-width="0.8"/>
    <path d="M278.2 496.8 L282.9 492.2" stroke-width="0.6" fill="none"/>
    <circle cx="269.9" cy="503.2" r="3.6" fill="#66b89f" stroke-width="0.8"/>
    <path d="M267.6 505.5 L272.2 500.9" stroke-width="0.6" fill="none"/>
    <circle cx="280.6" cy="503.2" r="3.6" fill="#8fd1b6" stroke-width="0.8"/>
    <path d="M278.2 505.5 L282.9 500.9" stroke-width="0.6" fill="none"/>
    <circle cx="269.9" cy="511.9" r="3.6" fill="#8fd1b6" stroke-width="0.8"/>
    <path d="M267.6 514.2 L272.2 509.6" stroke-width="0.6" fill="none"/>
    <circle cx="280.6" cy="511.9" r="3.6" fill="#66b89f" stroke-width="0.8"/>
    <path d="M278.2 514.2 L282.9 509.6" stroke-width="0.6" fill="none"/>
    <path d="M300.4 474.0 C299.4 484.0 305.3 491.0 311.3 493.0 C317.3 491.0 324.2 484.0 323.2 474.0" fill="none" stroke-width="1.1"/>
    <circle cx="300.4" cy="473.0" r="1.4" fill="#66b89f" stroke-width="0.8"/>
    <circle cx="323.2" cy="473.0" r="1.4" fill="#66b89f" stroke-width="0.8"/>
    <path d="M311.3 493.0 V506.0 C311.3 512.0 299.7 513.0 297.7 507.0 C296.7 502.0 296.7 506.4 296.7 502.4" fill="none" stroke-width="1.1"/>
    <circle cx="296.7" cy="498.4" r="4.4" fill="#7fcbe6"/>
    <circle cx="296.7" cy="498.4" r="1.9" fill="#5baccd" stroke-width="0.7"/>
    <rect x="318.4" y="498.4" width="19.6" height="6.6" rx="1" fill="#66b89f"/>
    <path d="M321.2 499.4 V504.0" stroke-width="0.5" fill="none"/>
    <path d="M324.0 499.4 V504.0" stroke-width="0.5" fill="none"/>
    <path d="M326.8 499.4 V504.0" stroke-width="0.5" fill="none"/>
    <path d="M329.6 499.4 V504.0" stroke-width="0.5" fill="none"/>
    <path d="M332.4 499.4 V504.0" stroke-width="0.5" fill="none"/>
    <path d="M335.2 499.4 V504.0" stroke-width="0.5" fill="none"/>
    <path d="M317.0 505 H339.1 a2.5 2.5 0 0 1 2.500 2.500 V537.1 a2.5 2.5 0 0 1 -2.500 2.500 H317.0 a2.5 2.5 0 0 1 -2.500 -2.500 V507.5 a2.5 2.5 0 0 1 2.500 -2.500 Z" fill="#66b89f"/>
    <path d="M331.1 505.5 H341.1 V536.6 a2.5 2.5 0 0 1 -2.500 2.500 H331.1 Z" fill="#4d9f88" stroke="none" opacity="0.8"/>
    <rect x="314.5" y="515.8" width="27.1" height="14.0" fill="#f2f7f6"/>
    <rect x="335.6" y="516.3" width="5.5" height="13.0" fill="#d5dedd" stroke="none"/>
    <path d="M325.6 518.2 h3.0 v3.1 h3.1 v3.0 h-3.1 v3.1 h-3.0 v-3.1 h-3.1 v-3.0 h3.1 Z" fill="#7fcbe6" stroke-width="0.8"/>
    <path d="M138.500 527 C132 519 122 520 117.300 524 C122 524.500 124 527.500 123 529 C127 528 129 530.500 128.500 532.500 C132 531 135 533 136.500 536 Z" fill="#7fcbe6"/>
    <path d="M138.500 527 C145 519 155 520 159.600 524 C155 524.500 153 527.500 154 529 C150 528 148 530.500 148.500 532.500 C145 531 142 533 140.500 536 Z" fill="#7fcbe6"/>
    <path d="M138.500 524 V563" fill="none" stroke-width="2.800"/>
    <path d="M138.500 524 V563" fill="none" stroke="#66b89f" stroke-width="1.300"/>
    <circle cx="138.500" cy="522.500" r="2.800" fill="#66b89f"/>
    <path d="M135 534 C130 537 132 541 138.500 542.500 C145 544 146 548 138.500 550 C133 551.500 133.500 555 138.500 556.500 C141.500 557.500 141.500 560 138.500 561" fill="none" stroke-width="2.600"/>
    <path d="M135 534 C130 537 132 541 138.500 542.500 C145 544 146 548 138.500 550 C133 551.500 133.500 555 138.500 556.500 C141.500 557.500 141.500 560 138.500 561" fill="none" stroke="#8fd1b6" stroke-width="1.200"/>
    <path d="M142 534 C147 537 145 541 138.500 542.500 C132 544 131 548 138.500 550 C144 551.500 143.500 555 138.500 556.500 C135.500 557.500 135.500 560 138.500 561" fill="none" stroke-width="2.600"/>
    <path d="M142 534 C147 537 145 541 138.500 542.500 C132 544 131 548 138.500 550 C144 551.500 143.500 555 138.500 556.500 C135.500 557.500 135.500 560 138.500 561" fill="none" stroke="#7fcbe6" stroke-width="1.200"/>
    <rect x="160.7" y="528.8" width="28.100000000000023" height="43.200000000000045" rx="2.6" fill="#d5dedd"/>
    <rect x="162.9" y="531.0" width="23.7" height="38.8" rx="1.6" fill="#f2f7f6" stroke-width="0.6"/>
    <rect x="164.3" y="534.0" width="9" height="4.6" rx="2.3" fill="#f2f7f6" stroke-width="0.8"/>
    <path d="M168.8 534.0 h2.2 a2.3 2.3 0 0 1 0 4.6 h-2.2 Z" fill="#7fcbe6" stroke-width="0.8"/>
    <rect x="176.2" y="534.0" width="9" height="4.6" rx="2.3" fill="#f2f7f6" stroke-width="0.8"/>
    <path d="M180.7 534.0 h2.2 a2.3 2.3 0 0 1 0 4.6 h-2.2 Z" fill="#7fcbe6" stroke-width="0.8"/>
    <rect x="164.3" y="541.1" width="9" height="4.6" rx="2.3" fill="#f2f7f6" stroke-width="0.8"/>
    <path d="M168.8 541.1 h2.2 a2.3 2.3 0 0 1 0 4.6 h-2.2 Z" fill="#7fcbe6" stroke-width="0.8"/>
    <rect x="176.2" y="541.1" width="9" height="4.6" rx="2.3" fill="#f2f7f6" stroke-width="0.8"/>
    <path d="M180.7 541.1 h2.2 a2.3 2.3 0 0 1 0 4.6 h-2.2 Z" fill="#7fcbe6" stroke-width="0.8"/>
    <rect x="164.3" y="548.1" width="9" height="4.6" rx="2.3" fill="#f2f7f6" stroke-width="0.8"/>
    <path d="M168.8 548.1 h2.2 a2.3 2.3 0 0 1 0 4.6 h-2.2 Z" fill="#7fcbe6" stroke-width="0.8"/>
    <rect x="176.2" y="548.1" width="9" height="4.6" rx="2.3" fill="#f2f7f6" stroke-width="0.8"/>
    <path d="M180.7 548.1 h2.2 a2.3 2.3 0 0 1 0 4.6 h-2.2 Z" fill="#7fcbe6" stroke-width="0.8"/>
    <rect x="164.3" y="555.1" width="9" height="4.6" rx="2.3" fill="#f2f7f6" stroke-width="0.8"/>
    <path d="M168.8 555.1 h2.2 a2.3 2.3 0 0 1 0 4.6 h-2.2 Z" fill="#7fcbe6" stroke-width="0.8"/>
    <rect x="176.2" y="555.1" width="9" height="4.6" rx="2.3" fill="#f2f7f6" stroke-width="0.8"/>
    <path d="M180.7 555.1 h2.2 a2.3 2.3 0 0 1 0 4.6 h-2.2 Z" fill="#7fcbe6" stroke-width="0.8"/>
    <rect x="164.3" y="562.2" width="9" height="4.6" rx="2.3" fill="#f2f7f6" stroke-width="0.8"/>
    <path d="M168.8 562.2 h2.2 a2.3 2.3 0 0 1 0 4.6 h-2.2 Z" fill="#7fcbe6" stroke-width="0.8"/>
    <rect x="176.2" y="562.2" width="9" height="4.6" rx="2.3" fill="#f2f7f6" stroke-width="0.8"/>
    <path d="M180.7 562.2 h2.2 a2.3 2.3 0 0 1 0 4.6 h-2.2 Z" fill="#7fcbe6" stroke-width="0.8"/>
    <g transform="translate(196.4 548.3) rotate(-44) scale(1.037777777777778)">
    <path d="M0 0 H9" fill="none" stroke-width="0.9"/>
    <rect x="9" y="-1.6" width="3" height="3.2" fill="#5baccd"/>
    <rect x="12" y="-3.6" width="19" height="7.2" fill="#f2f7f6"/>
    <rect x="19" y="-3.6" width="12" height="7.2" fill="#7fcbe6"/>
    <path d="M31 -5.4 V5.4" stroke-width="1.6" fill="none"/>
    <rect x="31.8" y="-1.7" width="8.6" height="3.4" fill="#5baccd"/>
    <path d="M41 -4.2 V4.2" stroke-width="1.7" fill="none"/>
    <path d="M15 -3.4 V-1 M18 -3.4 V-1 M21 -3.4 V-1 M24 -3.4 V-1" stroke-width="0.6" fill="none"/>
    </g>
    <path d="M232.6 521.2 H260.3 V558.8 a2.5 2.5 0 0 1 -2.5 2.5 H235.1 a2.5 2.5 0 0 1 -2.5 -2.5 Z" fill="#f2f7f6"/>
    <path d="M234.8 533 H258.1 V557.5 a1.6 1.6 0 0 1 -1.6 1.6 H236.4 a1.6 1.6 0 0 1 -1.6 -1.6 Z" fill="#7fcbe6" stroke-width="0.7"/>
    <rect x="251.8" y="541.8" width="9.2" height="17.4" rx="4.6" fill="#f2f7f6"/>
    <path d="M251.8 550.5 v4.1 a4.6 4.6 0 0 0 9.2 0 v-4.1 Z" fill="#66b89f"/>
    <rect x="256.0" y="552.8" width="19.5" height="9.0" rx="4.5" fill="#f2f7f6"/>
    <path d="M265.8 552.8 h-5.2 a4.5 4.5 0 0 0 0 9.0 h5.2 Z" fill="#7fcbe6"/>
    <circle cx="281.6" cy="535.3" r="10" fill="#5baccd"/>
    <path d="M273.0 531.3 A9.5 9.5 0 0 1 286.6 527.3 A14.0 14.0 0 0 0 273.0 531.3 Z" fill="#7fcbe6" stroke="none"/>
    <path d="M279.9 530.1 h3.4 v3.5 h3.5 v3.4 h-3.5 v3.5 h-3.4 v-3.5 h-3.5 v-3.4 h3.5 Z" fill="#f2f7f6" stroke-width="0.8"/>
    <path d="M301.5 555.3 C296.2 546.1 279.4 546.1 279.4 559.2 C279.4 568.8 292.7 577.7 301.5 586.2 C310.3 577.7 323.6 568.8 323.6 559.2 C323.6 546.1 306.8 546.1 301.5 555.3 Z" fill="url(#hg)"/>
    <path d="M283.8 561.5 C283.8 553.0 292.7 550.7 297.1 553.8" fill="none" stroke="#8fd3ee" stroke-width="2.4" opacity="0.7"/>
    <path d="M285.6 566.9 H295.3 l2.2 -7.7 l3.1 16.2 l3.1 -13.9 l2.2 5.4 H317.4" fill="none" stroke="#f4fbfd" stroke-width="0.9"/>
    <circle cx="205.1" cy="581.8" r="21.7" fill="#7cc3b4"/>
    <path d="M189.9 597.0 A21.7 21.7 0 0 0 220.3 597.0 A26.0 26.0 0 0 1 189.9 597.0 Z" fill="#5aa697" stroke="none"/>
    <circle cx="205.1" cy="581.8" r="16.5" fill="#f2f7f6"/>
    <path d="M205.1 566.6 V569.2 M205.1 594.4 V597.0 M189.9 581.8 H192.5 M217.7 581.8 H220.3" stroke-width="0.8" fill="none"/>
    <path d="M200.8 571.4 L205.1 581.8 L211.6 582.2" stroke-width="1" fill="none"/>
    <path d="M248.7 563.4 C241.8 567.7 234.8 570.3 229.4 570.7 C229.4 590.0 238.7 600.3 248.7 606.3 Z" fill="#7fcbe6"/>
    <path d="M248.7 563.4 C255.6 567.7 262.6 570.3 268.0 570.7 C268.0 590.0 258.7 600.3 248.7 606.3 Z" fill="#66b89f"/>
    <path d="M234.0 575.0 C234.0 587.4 240.2 596.0 247.2 602.0" fill="none" stroke="#5baccd" stroke-width="2.2" opacity="0.55"/>
    <path d="M246.2 575.8 h5.0 v5.2 h5.2 v5.0 h-5.2 v5.2 h-5.0 v-5.2 h-5.2 v-5.0 h5.2 Z" fill="#f2f7f6" stroke-width="0.8"/>
    </g>

  <g id="cyber" stroke-linejoin="round" stroke-linecap="round">
    <!-- background blob -->
    <path d="M1028 372 C1092 370 1147.500 425 1147.500 515 C1147.500 545 1143 565 1130 582 L1110 604 L975 604 L938 586 C918 574 905 552 905 522 C905 432 964 372 1028 372 Z" fill="#c6d8fa"/>
    <!-- right chair -->
    <path d="M1124 513 C1128 509 1140 509 1143.500 514 C1146 530 1145 556 1141 571 C1138 576 1128 576 1124.500 572 Z" fill="#8ea9ef"/>
    <!-- board -->
    <rect x="918.900" y="376.500" width="155" height="107" rx="4.500" fill="#ffffff" stroke="#587bec" stroke-width="2.400"/>
    <!-- flow lines -->
    <g fill="none" stroke="#a9b7e2" stroke-width="0.800">
      <path d="M972 402 V392 a5 5 0 0 1 5 -5 H1003"/>
      <path d="M978 403 V397 a4 4 0 0 1 4 -4 H1003"/>
      <path d="M984 403 V402 a3 3 0 0 1 3 -3 H1003"/>
      <path d="M958 469 V472 a4 4 0 0 0 4 4 H1036 a5 5 0 0 0 5 -5 V452"/>
      <path d="M966 466 V467 a4 4 0 0 0 4 4 H1028 a5 5 0 0 0 5 -5 V455"/>
      <path d="M975 462 a4 4 0 0 0 4 4 H990"/>
    </g>
    <!-- server stack -->
    <g stroke="#171c46" stroke-width="0.900">
      <path d="M935.300 418.100 L955.500 428.800 L955.500 468.500 L935.300 458 Z" fill="#587bec"/>
      <path d="M955.500 428.800 L977.200 418.600 L977.200 455.500 L955.500 468.500 Z" fill="#6f8de9"/>
      <path d="M935.300 418.100 L955.800 408.600 L977.200 418.600 L955.500 428.800 Z" fill="#c3d1f8"/>
      <path d="M935.300 428 L955.500 438.700 L977.200 428.200 M935.300 438 L955.500 448.700 L977.200 437.800 M935.300 448 L955.500 458.700 L977.200 447.400" fill="none"/>
      <path d="M935.300 424.600 L955.500 435.300 L977.200 425 M935.300 434.600 L955.500 445.300 L977.200 434.600 M935.300 444.600 L955.500 455.300 L977.200 444.200 M935.300 454.600 L955.500 465.300 L977.200 453.800" fill="none" stroke="#dfe7fc" stroke-width="1.300"/>
    </g>
    <!-- bitcoin -->
    <g stroke="#171c46" stroke-width="0.900">
      <path d="M944.500 392 L948.500 389.600 L948.500 387 L951 386.200 L951.500 388.400 L954 387.600 L954.400 385.600 L957 386.200 L957 388.600 C962 389.400 964.500 393 963 397.500 C962.500 399.200 961.500 400.400 960 401.200 C964 402.600 966.500 406.500 965 411.500 C964 415 961 417 957.500 417.500 L957.500 420 L955 420.500 L954.600 418 L952.200 417.600 L952 420 L949.500 419.400 L949.500 416.800 L945 414.600 Z" fill="#6f8de9"/>
      <path d="M951.500 393.500 L951.500 399.500 L955.500 400.200 C958 400.200 958.500 395.400 955.500 394.300 Z M951.500 404.500 L951.500 411.500 L956 412.600 C959.500 412.600 960 406.600 956.500 405.400 Z" fill="#ffffff"/>
    </g>
    <!-- cubes -->
    <g stroke="#171c46" stroke-width="0.800">
      <path d="M1018 414 L1034 405 L1049.500 413 L1049.500 443 L1034 452 L1018 443.500 Z" fill="#ffffff"/>
      <path d="M1018 414 L1034 422.500 L1034 452 L1018 443.500 Z" fill="#e9eefc"/>
      <path d="M1034 422.500 L1049.500 413 L1049.500 443 L1034 452 Z" fill="#7c97ec"/>
      <path d="M1018 414 L1034 405 L1049.500 413 L1034 422.500 Z" fill="#587bec"/>
      <path d="M1018 423.800 L1034 432.300 L1049.500 423 M1018 433.600 L1034 442.100 L1049.500 433 M1023.300 416.800 V446.300 M1028.600 419.600 V449.100 M1039.200 419.300 V449 M1044.400 416.100 V446" fill="none"/>
      <path d="M1023.300 411 L1039.200 419.300 M1028.600 408 L1044.400 416.100 M1023.300 416.800 L1039 408 M1028.600 419.600 L1044.300 410.600" fill="none"/>
      <path d="M1021 399 L1032.500 394.400 L1043 400 L1043 411 L1032 416 L1021 410 Z" fill="#6f8de9"/>
      <path d="M1006.200 391.500 L1015 385 L1023.500 389.500 L1023.500 399.500 L1014.800 404.500 L1006.200 400.200 Z" fill="#ffffff"/>
      <path d="M1006.200 391.500 L1015 385 L1023.500 389.500 L1014.800 395 Z" fill="#6f8de9"/>
      <path d="M1014.800 395 V404.500" fill="none"/>
      <path d="M1037.600 401 L1046 394.500 L1053.800 398.800 L1053.800 408.600 L1045.600 413 L1037.600 409.200 Z" fill="#ffffff"/>
      <path d="M1037.600 401 L1046 394.500 L1053.800 398.800 L1045.600 404.600 Z" fill="#6f8de9"/>
      <path d="M1045.600 404.600 V413" fill="none"/>
    </g>
    <!-- shield -->
    <path d="M1000.600 398 C1008 405 1018 410.500 1027.900 412.400 C1029 436 1019 455 999.600 465.600 C981 455 972 436 973.300 412.400 C983 410.500 993 405 1000.600 398 Z" fill="#ffffff" stroke="#0b0b10" stroke-width="1.800"/>
    <path d="M1000.600 404.200 C1007 409.500 1015 414 1023.100 415.600 C1023.800 434 1015.500 450 999.600 459.400 C984.500 450 977.300 434 978 415.600 C986 414 994 409.500 1000.600 404.200 Z" fill="#587bec"/>
    <path d="M996 426 V420.500 C996 416.500 998.500 414.800 1001 414.800 C1003.500 414.800 1006 416.500 1006 420.500 V426" fill="none" stroke="#0b0b10" stroke-width="2.400"/>
    <rect x="991.800" y="425.300" width="18.400" height="16.600" rx="1" fill="#0b0b10"/>
    <circle cx="1001" cy="431.300" r="2.400" fill="#ffffff"/>
    <path d="M1001 432 V437" stroke="#ffffff" stroke-width="1.600" fill="none"/>

    <!-- standing man: trousers -->
    <path d="M1064.500 466 L1092 466 L1092.500 516 L1064 516 Z" fill="#6f8de9"/>
    <path d="M1064.500 469 C1063 485 1063.500 500 1064 516 M1078 480 V516" fill="none" stroke="#0b0b10" stroke-width="0.800"/>
    <!-- shirt -->
    <path d="M1052 440 C1054 428 1064 421.500 1074 419.500 L1079.600 426 L1086.500 419.200 C1100 420 1112 426 1119 440 C1121 446 1119 452 1114 456.500 L1104 446 L1094 470 L1062 470 L1061 452 Z" fill="#587bec"/>
    <!-- neck / V -->
    <path d="M1075.500 411 L1075 419 L1079.600 426.400 L1086 419.200 L1084.200 412 Z" fill="#ffffff" stroke="#0b0b10" stroke-width="0.800"/>
    <!-- head -->
    <path d="M1073.400 403 C1073.400 399 1085.200 398 1085.200 403 L1084.800 410.500 C1084 416.600 1076.500 416.800 1074.600 412 Z" fill="#ffffff" stroke="#0b0b10" stroke-width="0.800"/>
    <path d="M1069 401.500 C1067.500 397 1071 394 1075 395.400 C1077 393 1083 393.200 1084.500 396 C1087.500 397 1087 401.500 1085 403.500 C1084 401.500 1082.500 400.500 1081 400.600 C1078 403 1074.500 402.500 1073.400 406.500 C1071.500 405.600 1069.800 403.800 1069 401.500 Z" fill="#0b0b10"/>
    <!-- arm -->
    <path d="M1104.500 437 L1118.600 451.500 C1120.600 454.500 1117 458.500 1113.500 456.600 L1092.500 440.600 C1090 439.800 1087.400 437.800 1086.400 435.400 C1089 433.600 1093.500 433.600 1096.500 435.600 L1101.500 439.500 Z" fill="#ffffff" stroke="#0b0b10" stroke-width="0.900"/>
    <!-- laptop -->
    <path d="M1047.100 438.300 L1083.900 437.100 L1091 464.400 L1054.200 465.600 Z" fill="#6f8de9" stroke="#171c46" stroke-width="0.900"/>
    <circle cx="1068.500" cy="451.400" r="2.300" fill="#ffffff"/>
    <path d="M1046.500 450.500 C1049 447.500 1054 448.500 1054.800 452 C1055.400 455.500 1052 458.600 1048.600 457.200 C1046 456 1045 453 1046.500 450.500 Z" fill="#ffffff" stroke="#0b0b10" stroke-width="0.800"/>

    <!-- desk -->
    <path d="M962 516 L1040 508 L1108 560 L1146 591 L1146 609.200 L986 609.200 L986 560 Z" fill="#ffffff"/>
    <path d="M1107 559.500 L1146 591.400" fill="none" stroke="#0b0b10" stroke-width="1"/>

    <!-- afro woman -->
    <path d="M1069 510 C1078 506 1088 503.400 1094 503.600 L1112 503 C1124 505 1130 515 1132.500 530 C1134.500 545 1133 555 1130.500 561.500 L1112 558 L1111 528 L1090 512 L1072 516 Z" fill="#587bec"/>
    <path d="M1087 506.500 L1096 503.400 L1110 503.400 C1113.500 520 1113.800 540 1113.500 557 L1107 557 L1106.500 524.500 L1102.600 524 Z" fill="#ffffff" stroke="#0b0b10" stroke-width="0.700"/>
    <path d="M1107.500 557 L1125.500 560 L1126 570 C1122 573 1114 570 1107.500 564 Z" fill="#0b0b10"/>
    <path d="M1107 535 C1112 537 1118 536 1122 533 M1107 545 C1113 547 1120 546 1125 542" fill="none" stroke="#ffffff" stroke-width="0.900"/>
    <!-- pointing arm -->
    <path d="M1090 505 C1078 506 1066 510 1056 511.500 L1040.500 503 L1037.500 507 L1052 518.500 C1066 519 1080 517.500 1090 515 Z" fill="#587bec"/>
    <path d="M1034 491.500 L1037 491 L1042.500 500.600 C1043.500 503 1041 505.400 1038.600 504 C1036 501 1034.500 496 1034 491.500 Z" fill="#ffffff" stroke="#0b0b10" stroke-width="0.800"/>
    <path d="M1040.500 503 L1056 515.500" fill="none" stroke="#0b0b10" stroke-width="0.800"/>
    <!-- face / neck -->
    <path d="M1092 486 C1091 492 1092 497 1094.500 499 L1097.500 498.600 L1097.500 504.500 L1104 504.500 L1103.500 492 Z" fill="#ffffff" stroke="#0b0b10" stroke-width="0.800"/>
    <!-- hair -->
    <path d="M1105.300 461 C1109 459.500 1112.500 461 1114.500 463.500 C1118.500 463 1121.500 466 1121.800 469.500 C1124.500 472 1124.500 476.500 1122.500 479 C1124 483 1122 487.500 1118.500 489 C1118 493 1114.500 496 1111 495.500 C1108.500 498 1104.500 498 1102.500 495.500 L1101.500 489 C1099 489.500 1097.500 487.500 1098.500 485.500 C1096 487 1092.500 487.500 1091.500 485 C1088 483 1086.800 478.500 1088.500 475.500 C1087 471.500 1089.500 467 1093 466 C1094.500 462.500 1099 460.500 1102.500 462 Z" fill="#0b0b10"/>
    <circle cx="1100.300" cy="490.800" r="2.300" fill="#6f8de9" stroke="#171c46" stroke-width="0.600"/>

    <!-- monitor 3 (white back) + stand -->
    <path d="M1064.700 537 L1082 532 L1089.200 575 L1078 580.500 L1064.700 576 Z" fill="#cdd9f8"/>
    <path d="M1036.900 513.400 L1102.600 524.500 L1107 566.800 L1069.200 559 Z" fill="#ffffff" stroke="#0b0b10" stroke-width="0.900"/>
    <path d="M1102.600 524.500 L1107 566.800" fill="none" stroke="#0b0b10" stroke-width="1.800"/>

    <!-- left woman -->
    <path d="M931 500 C936 495.500 946 494.500 951 495.500 C957 499 960 510 960.500 520 L958 536 L934 537 L929 512 Z" fill="#ffffff" stroke="#0b0b10" stroke-width="0.800"/>
    <path d="M945.500 489 L945 497.500 L952 497.500 L951.500 492 Z" fill="#ffffff" stroke="#0b0b10" stroke-width="0.700"/>
    <path d="M944 481.500 C946 478.500 954 479 954.500 482.500 L954.200 489.500 C953.500 493.500 948 494 945.800 491.500 Z" fill="#ffffff" stroke="#0b0b10" stroke-width="0.800"/>
    <path d="M920.500 476 C923 471.500 930 470.500 934.500 472.500 C937 469.500 943 469.500 946 472 C950 471 955 473.500 955.600 477.500 C952 477 948.500 478.500 946.800 481.500 C946.500 486 944.500 490 941 491.500 C936 494.500 929.500 493.500 926 490 C922 487 919.500 481 920.500 476 Z" fill="#0b0b10"/>

    <!-- monitor 1 -->
    <path d="M963.800 478.600 L1014.600 490.600 L1013.200 515.500 L964.600 502.500 Z" fill="#587bec" stroke="#0b0b10" stroke-width="0.900"/>
    <path d="M967 483 L1011.400 493.500 L1010.400 511.500 L967.600 500 Z" fill="#cdd9f8"/>
    <path d="M967 483 L1011.400 493.500 L1011.200 496.500 L967.100 486 Z" fill="#8aa4ee"/>
    <path d="M986 497 L1000 500.400 L999.600 508 L986 504.400 Z" fill="#a9bdf3"/>
    <path d="M988 503 V500 M991 504 V499 M994 505 V501.500 M997 506 V500.500" stroke="#587bec" stroke-width="1.200" fill="none"/>

    <!-- white arm/table strip between -->
    <path d="M956 511 L1000 520 L996 545 L960 537 Z" fill="#ffffff"/>
    <path d="M975 516 L996 520.500 M972 527 L994 531.500" fill="none" stroke="#0b0b10" stroke-width="0.700"/>
    <!-- camera -->
    <path d="M955.500 506 C957 503.500 961 503 963.500 505 L968 504.500 C970 502 974.500 501.500 977 503 C980.500 503.500 982 507 980.500 510 L979 512 L979.600 525 C979.600 529 976 531.500 972.500 531 L965 530 C962 529.500 960.500 527 960.500 524 L960 515 C956.500 514 954 510 955.500 506 Z" fill="#0b0b10"/>
    <path d="M966.500 513 L975 511.500 C976.500 511.300 977.300 512 977.400 513.500 L977.800 523.500 C977.800 525 977 525.800 975.500 526 L969 527 C967.500 527.200 966.600 526.500 966.500 525 Z" fill="#ffffff"/>

    <!-- left chair back -->
    <path d="M920.800 523 C920 514 928 509.500 937 512 C947 515 953.500 527 955.600 540 L958 563.500 L934 566 C927 553 922 538 920.800 523 Z" fill="#ffffff" stroke="#0b0b10" stroke-width="0.900"/>
    <path d="M927.500 527 C928.500 538 931 549 934.500 558" fill="none" stroke="#0b0b10" stroke-width="0.800"/>

    <!-- front chair -->
    <path d="M936.700 566 C950 560 975 566 986.500 580 L986.800 609.200 L958 609.200 C945 604 937 596 936.700 585 Z" fill="#ffffff"/>
    <path d="M938 566.500 C952 561.500 975 567 985.500 580.500 L985.800 606" fill="none" stroke="#0b0b10" stroke-width="2"/>
    <path d="M941 579 C948 592 962 602 978 605" fill="none" stroke="#0b0b10" stroke-width="0.800"/>

    <!-- front person (blue) -->
    <path d="M944.500 545 C948 538 958 535 967 535.800 C980 537 992 545 999 553.500 C1006 561 1010 572 1009 582 L1004.600 594.700 L1009.500 609.200 L987 609.200 L986.600 580 C978 567 960 562 946.800 565 C944.500 559 943.500 551 944.500 545 Z" fill="#587bec"/>

    <!-- monitor 2 -->
    <path d="M995.700 506.700 L1069.200 525.700 L1064.700 569 L992.400 544.600 Z" fill="#587bec" stroke="#0b0b10" stroke-width="0.900"/>
    <path d="M1069.200 525.700 L1064.700 569" fill="none" stroke="#0b0b10" stroke-width="2.200"/>
    <path d="M999 511.500 L1065 528.500 L1061.500 563.500 L996.400 541.800 Z" fill="#cdd9f8"/>
    <path d="M999 511.500 L1065 528.500 L1064.600 532.500 L998.600 515.300 Z" fill="#8aa4ee"/>
    <path d="M1004 516.500 L1054 529.500 L1053.400 536 L1003.400 522.600 Z" fill="#dfe7fc"/>
    <path d="M1004 528 L1030 535 M1004 533 L1024 538.500 M1004 538 L1026 544" fill="none" stroke="#8aa4ee" stroke-width="0.900"/>
    <path d="M1037.500 536.500 L1048 539.500 L1047.200 550 L1037 546.800 Z" fill="#8aa4ee"/>

    <!-- front person's arm -->
    <path d="M1005 541 C1007 537.500 1013 537.500 1016 540.500 C1020 546 1023 560 1025.500 575 C1027 583 1026 589 1021 591.200 C1016 592.500 1011 590 1008.500 585 L1012 574 C1013.500 566 1011.500 556 1008.500 549 C1006 547.500 1004 544 1005 541 Z" fill="#ffffff" stroke="#0b0b10" stroke-width="0.900"/>
    <!-- keyboard -->
    <path d="M1001.300 590.500 L1031 581.300 L1050.300 589 L1021 600.400 Z" fill="#6f8de9" stroke="#3d5fd0" stroke-width="0.800"/>
    <path d="M1006 590.500 L1031 583 M1011 592.800 L1036.500 584.800 M1016 595 L1042 586.800 M1014 587.800 L1031 596 M1022 585.500 L1039 593" fill="none" stroke="#a9bdf3" stroke-width="0.600"/>
    <!-- motion marks -->
    <path d="M1136 466 C1141 476 1143 488 1142.500 500 M1131.500 470 C1135 478 1136.500 487 1136.500 494" fill="none" stroke="#171c46" stroke-width="0.600"/>
  </g>

  <!-- ARROWS -->
  <g id="arrows" fill="none" stroke="#050805" stroke-width="4">
    <!-- top-left -->
    <path d="M413.3 174.8 H505.8" stroke-dasharray="4 4"/>
    <path d="M503.7 182.6 V243" stroke-dasharray="4 4"/>
    <path d="M411.8 169.2 L404.4 174.8 L411.8 180.4" stroke-width="4.6" stroke-linecap="round" stroke-linejoin="round"/>
    <!-- top-right -->
    <path d="M735.6 179.4 H828" stroke-dasharray="4 4"/>
    <path d="M737.6 185.4 V245.4" stroke-dasharray="4 4"/>
    <path d="M829.5 173.8 L836.9 179.3 L829.5 184.8" stroke-width="4.6" stroke-linecap="round" stroke-linejoin="round"/>
    <!-- bottom-left -->
    <path d="M413.3 536.6 H505.8" stroke-dasharray="4 4"/>
    <path d="M501.3 469.8 V533" stroke-dasharray="4 4"/>
    <path d="M411.8 531.1 L404.4 536.6 L411.8 542.1" stroke-width="4.6" stroke-linecap="round" stroke-linejoin="round"/>
    <!-- bottom-right -->
    <path d="M735.9 535.1 h4 v4 h-4 Z" fill="#050805" stroke="none"/><path d="M745.6 537.1 H830" stroke-dasharray="4 4"/>
    <path d="M737.9 469.8 V533" stroke-dasharray="4 4"/>
    <path d="M831.9 531.7 L839.3 537.1 L831.9 542.5" stroke-width="4.6" stroke-linecap="round" stroke-linejoin="round"/>
  </g>
</svg>

<div class="center-box"></div>
<div class="lbl ctr" id="t1" style="left:526px; top:286px; transform:scaleX(1.033);">Data Loss</div>
<div class="lbl ctr" id="t2" style="left:512.9px; top:341px; transform:scaleX(1.07);">Prevention</div>
<div class="lbl ctr" id="t3" style="left:527.4px; top:396px; transform:scaleX(1.002);">Use Cases</div>

<div class="lbl side" id="l1" style="left:119.4px; top:236px; transform:scaleX(1.032);">Financial services</div>
<div class="lbl side" id="l2" style="left:935.5px; top:260.5px; transform:scaleX(1.065);">Compliance</div>
<div class="lbl side" id="l3" style="left:159.2px; top:632px; transform:scaleX(1.089);">Healthcare</div>
<div class="lbl side" id="l4" style="left:875.6px; top:622px; transform:scaleX(1.07);">Effective cybersecurity</div>

</body>
</html>
